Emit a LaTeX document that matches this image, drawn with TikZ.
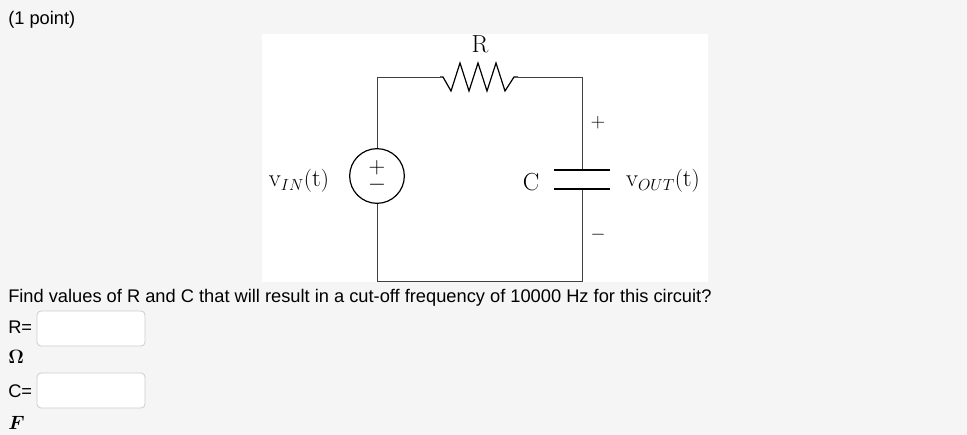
\documentclass[tikz,border=0pt]{standalone}
\usepackage{amsmath}
\usepackage{fontspec}
\setmainfont{Latin Modern Roman}
\newfontfamily\sansf{Liberation Sans}
\begin{document}
\begin{tikzpicture}[x=0.75pt,y=-0.75pt,
  wire/.style={line width=0.6pt,draw=black!75},
  ui/.style={font=\sansf\fontsize{13.7}{15}\selectfont,anchor=west,inner sep=0},
  box/.style={draw=black!20,fill=white,rounded corners=3pt,line width=0.6pt},
  lbl/.style={font=\fontsize{18.5}{20}\selectfont,inner sep=0}]
\fill[black!4] (0,0) rectangle (967,435);
\useasboundingbox (0,0) rectangle (967,435);
\fill[white] (262,34) rectangle (708,282);
\node[ui] (pt) at (8,20) {(1 point)};
% circuit
\coordinate (tl) at (377,77); \coordinate (tr) at (582,77);
\coordinate (bl) at (377,281); \coordinate (br) at (582,281);
\coordinate (ra) at (440,77); \coordinate (rb) at (518,77);
\node[circle,draw,line width=0.9pt,minimum size=41pt,inner sep=0] (src) at (377,176) {};
\node[font=\fontsize{17}{16}\selectfont,inner sep=0,align=center] (spm) at (377,176.5) {$+$\\[-3pt]$-$};
\coordinate (c1) at (582,170); \coordinate (c2) at (582,189);
\draw[wire] (src.north) -- (tl) -- (ra);
\draw[wire] (rb) -- (tr) -- (c1);
\draw[wire] (c2) -- (br) -- (bl) -- (src.south);
\draw[line width=0.9pt] (ra) -- (443,77) -- (451,91) -- (460,63) -- (469,91) -- (478,63) -- (487,91) -- (496,63) -- (505,91) -- (514,77) -- (rb);
\draw[line width=1.2pt] (554,170) -- (610,170);
\draw[line width=1.2pt] (554,189) -- (610,189);
\node[lbl] (R) at (480,44) {R};
\node[lbl] (vin) at (299,181) {$\mathrm{v}_{IN}(\mathrm{t})$};
\node[lbl] (C) at (531,182) {C};
\node[lbl] (vout) at (663,181) {$\mathrm{v}_{OUT}(\mathrm{t})$};
\node[font=\fontsize{14}{16}\selectfont,inner sep=0] (pl) at (598,123) {$+$};
\node[font=\fontsize{14}{16}\selectfont,inner sep=0] (mi) at (598,235) {$-$};
% form
\node[ui] (q) at (8,298) {Find values of R and C that will result in a cut-off frequency of 10000 Hz for this circuit?};
\node[ui] (r) at (8,327) {R=};
\draw[box] (37,311) rectangle (145,346);
\node[font=\fontsize{15}{16}\selectfont,anchor=west,inner sep=0] (om) at (8,357) {$\boldsymbol{\Omega}$};
\node[ui] (c) at (8,391) {C=};
\draw[box] (37,373) rectangle (145,408);
\node[font=\fontsize{15}{16}\selectfont,anchor=west,inner sep=0] (f) at (8,423) {$\boldsymbol{F}$};
\end{tikzpicture}
\end{document}
